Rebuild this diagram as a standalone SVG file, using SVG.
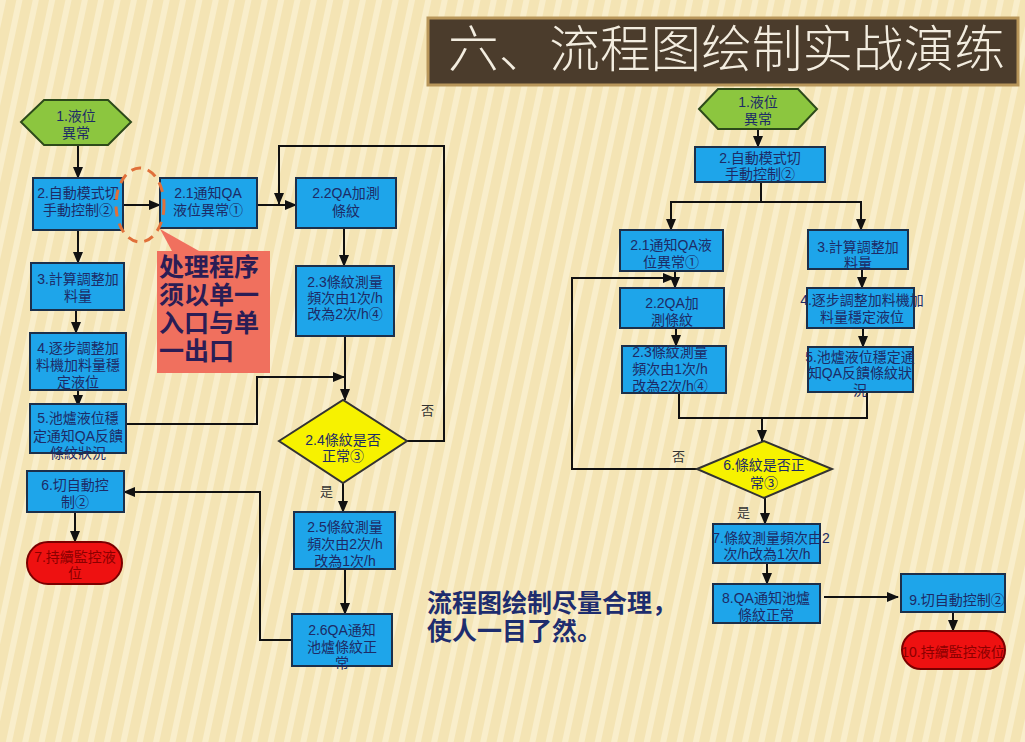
<svg xmlns="http://www.w3.org/2000/svg" width="1025" height="742" viewBox="0 0 1025 742">
<defs>
<pattern id="stripes" width="16" height="16" patternUnits="userSpaceOnUse" patternTransform="rotate(12)">
<rect width="16" height="16" fill="#f4e4b4"/>
<rect width="6" height="16" fill="#f9eecb"/>
</pattern>
<marker id="ah" markerWidth="12" markerHeight="10" refX="11" refY="5" orient="auto" markerUnits="userSpaceOnUse">
<path d="M0,0 L12,5 L0,10 Z" fill="#111"/>
</marker>
<style>
.box{fill:#1ea5ea;stroke:#1c2f4a;stroke-width:2}
.hex{fill:#8cc63f;stroke:#2d4a1a;stroke-width:2}
.dia{fill:#f7f200;stroke:#333;stroke-width:2}
.term{fill:#ee1111;stroke:#7a0000;stroke-width:2}
.t{font-family:"Liberation Sans","Noto Sans CJK SC","Noto Sans CJK TC",sans-serif;font-size:14px;fill:#1d2b66;text-anchor:middle}
.tr{fill:#8b0000}
.c{fill:none;stroke:#111;stroke-width:2}
.ca{fill:none;stroke:#111;stroke-width:2;marker-end:url(#ah)}
.big{font-family:"Liberation Sans","Noto Sans CJK SC",sans-serif;font-size:25px;fill:#2b1d55;font-weight:bold}
.mid{font-family:"Liberation Sans","Noto Sans CJK SC",sans-serif;font-size:25px;fill:#1e2d6e;font-weight:bold}
.lbl{font-family:"Liberation Sans","Noto Sans CJK SC",sans-serif;font-size:13px;fill:#333}
</style>
</defs>
<rect width="1025" height="742" fill="url(#stripes)"/>

<g id="title">
<rect x="428" y="18" width="590" height="67" fill="#4b3c2c" stroke="#b8965a" stroke-width="3"/>
<text x="448" y="67" font-family="Noto Sans CJK SC,sans-serif" font-size="50" font-weight="300" fill="#f3ede0" textLength="557" lengthAdjust="spacingAndGlyphs">六、流程图绘制实战演练</text>
</g>

<g id="connectors">
<path class="ca" d="M78,145 V178"/>
<path class="ca" d="M123,205 H160"/>
<path class="ca" d="M257,205 H296"/>
<path class="ca" d="M407,441 H444 V146 H279 V204"/>
<path class="ca" d="M344,228 V266"/>
<path class="ca" d="M345,336 V400"/>
<path class="ca" d="M126,424 H257 V377 H344"/>
<path class="ca" d="M343,483 V512"/>
<path class="ca" d="M345,569 V614"/>
<path class="ca" d="M292,640 H260 V492 H124"/>
<path class="ca" d="M78,230 V263"/>
<path class="ca" d="M76,310 V333"/>
<path class="ca" d="M78,386 V406"/>
<path class="ca" d="M75,512 V542"/>

<path class="ca" d="M758,129 V147"/>
<path class="c" d="M761,182 V202"/>
<path class="ca" d="M761,202 H671 V230"/>
<path class="ca" d="M761,202 H861 V230"/>
<path class="ca" d="M675,271 V288"/>
<path class="ca" d="M697,469 H572 V278 H674"/>
<path class="ca" d="M676,328 V346"/>
<path class="ca" d="M862,269 V288"/>
<path class="ca" d="M863,328 V347"/>
<path class="c" d="M679,393 V418 H867 V392"/>
<path class="ca" d="M762,418 V441"/>
<path class="ca" d="M765,498 V524"/>
<path class="ca" d="M767,563 V584"/>
<path class="ca" d="M824,597 H898"/>
<path class="ca" d="M953,612 V631"/>
</g>

<g id="L1"><polygon class="hex" points="21,122 44,100 108,100 131,122 108,145 44,145"/>
<text class="t" x="76" y="121">1.液位</text><text class="t" x="76" y="138">異常</text></g>
<g id="L2"><rect class="box" x="33" y="178" width="90" height="52"/>
<text class="t" x="78" y="198">2.自動模式切</text><text class="t" x="78" y="215">手動控制②</text></g>
<g id="L21"><rect class="box" x="160" y="178" width="97" height="50"/>
<text class="t" x="208" y="198">2.1通知QA</text><text class="t" x="208" y="215">液位異常①</text></g>
<g id="L22"><rect class="box" x="296" y="178" width="100" height="50"/>
<text class="t" x="346" y="198">2.2QA加測</text><text class="t" x="346" y="216">條紋</text></g>
<g id="L23"><rect class="box" x="296" y="266" width="98" height="70"/>
<text class="t" x="345" y="287">2.3條紋測量</text><text class="t" x="345" y="303">頻次由1次/h</text><text class="t" x="345" y="319">改為2次/h④</text></g>
<g id="L3"><rect class="box" x="31" y="263" width="93" height="47"/>
<text class="t" x="78" y="284">3.計算調整加</text><text class="t" x="78" y="301">料量</text></g>
<g id="L4"><rect class="box" x="30" y="333" width="96" height="57"/>
<text class="t" x="78" y="353">4.逐步調整加</text><text class="t" x="78" y="370">料機加料量穩</text><text class="t" x="78" y="387">定液位</text></g>
<g id="L5"><rect class="box" x="30" y="404" width="96" height="49"/>
<text class="t" x="78" y="423">5.池爐液位穩</text><text class="t" x="78" y="441">定通知QA反饋</text><text class="t" x="78" y="458">條紋狀況</text></g>
<g id="L6"><rect class="box" x="27" y="471" width="97" height="41"/>
<text class="t" x="75" y="490">6.切自動控</text><text class="t" x="75" y="507">制②</text></g>
<g id="L7"><rect class="term" x="27" y="542" width="95" height="42" rx="21"/>
<text class="t tr" x="75" y="562">7.持續監控液</text><text class="t tr" x="75" y="578">位</text></g>
<g id="L24"><polygon class="dia" points="279,441 343,400 407,441 343,483"/>
<text class="t" x="343" y="445">2.4條紋是否</text><text class="t" x="343" y="461">正常③</text></g>
<g id="L25"><rect class="box" x="294" y="512" width="101" height="57"/>
<text class="t" x="345" y="532">2.5條紋測量</text><text class="t" x="345" y="549">頻次由2次/h</text><text class="t" x="345" y="566">改為1次/h</text></g>
<g id="L26"><rect class="box" x="292" y="614" width="100" height="52"/>
<text class="t" x="342" y="635">2.6QA通知</text><text class="t" x="342" y="652">池爐條紋正</text><text class="t" x="342" y="668">常</text></g>

<g id="labelsL">
<text class="lbl" x="421" y="415">否</text>
<text class="lbl" x="320" y="496">是</text>
</g>

<g id="callout">
<ellipse cx="140" cy="205" rx="24" ry="37" fill="none" stroke="#e0703a" stroke-width="3" stroke-dasharray="10 7"/>
<polygon points="160,229 199,251 172,251" fill="#f0705e"/>
<rect x="157" y="251" width="113" height="122" fill="#f0705e"/>
<text class="big" x="159" y="276">处理程序</text>
<text class="big" x="159" y="304">须以单一</text>
<text class="big" x="159" y="332">入口与单</text>
<text class="big" x="159" y="360">一出口</text>
</g>

<g id="note">
<text class="mid" x="427" y="612">流程图绘制尽量合理，</text>
<text class="mid" x="427" y="640">使人一目了然。</text>
</g>

<g id="R1"><polygon class="hex" points="699,109 718,89 798,89 817,109 798,129 718,129"/>
<text class="t" x="758" y="107">1.液位</text><text class="t" x="758" y="124">異常</text></g>
<g id="R2"><rect class="box" x="695" y="147" width="130" height="35"/>
<text class="t" x="760" y="163">2.自動模式切</text><text class="t" x="760" y="179">手動控制②</text></g>
<g id="R21"><rect class="box" x="620" y="230" width="103" height="41"/>
<text class="t" x="671" y="250">2.1通知QA液</text><text class="t" x="671" y="267">位異常①</text></g>
<g id="R3"><rect class="box" x="808" y="230" width="100" height="39"/>
<text class="t" x="858" y="252">3.計算調整加</text><text class="t" x="858" y="268">料量</text></g>
<g id="R22"><rect class="box" x="620" y="288" width="104" height="40"/>
<text class="t" x="672" y="308">2.2QA加</text><text class="t" x="672" y="325">測條紋</text></g>
<g id="R4"><rect class="box" x="807" y="288" width="107" height="40"/>
<text class="t" x="862" y="305">4.逐步調整加料機加</text><text class="t" x="862" y="322">料量穩定液位</text></g>
<g id="R23"><rect class="box" x="622" y="346" width="104" height="47"/>
<text class="t" x="670" y="357">2.3條紋測量</text><text class="t" x="670" y="374">頻次由1次/h</text><text class="t" x="670" y="391">改為2次/h④</text></g>
<g id="R5"><rect class="box" x="808" y="347" width="105" height="45"/>
<text class="t" x="860" y="362">5.池爐液位穩定通</text><text class="t" x="860" y="378">知QA反饋條紋狀</text><text class="t" x="860" y="395">況</text></g>
<g id="R6"><polygon class="dia" points="697,469 764,441 832,469 764,498"/>
<text class="t" x="764" y="470">6.條紋是否正</text><text class="t" x="764" y="488">常③</text></g>
<g id="R7"><rect class="box" x="713" y="524" width="107" height="39"/>
<text class="t" x="771" y="543">7.條紋測量頻次由2</text><text class="t" x="767" y="559">次/h改為1次/h</text></g>
<g id="R8"><rect class="box" x="713" y="584" width="107" height="39"/>
<text class="t" x="766" y="603">8.QA通知池爐</text><text class="t" x="766" y="620">條紋正常</text></g>
<g id="R9"><rect class="box" x="901" y="574" width="104" height="38"/>
<text class="t" x="957" y="605">9.切自動控制②</text></g>
<g id="R10"><rect class="term" x="902" y="631" width="103" height="38" rx="19"/>
<text class="t tr" x="953" y="657">10.持續監控液位</text></g>

<g id="labelsR">
<text class="lbl" x="672" y="461">否</text>
<text class="lbl" x="737" y="517">是</text>
</g>
</svg>
